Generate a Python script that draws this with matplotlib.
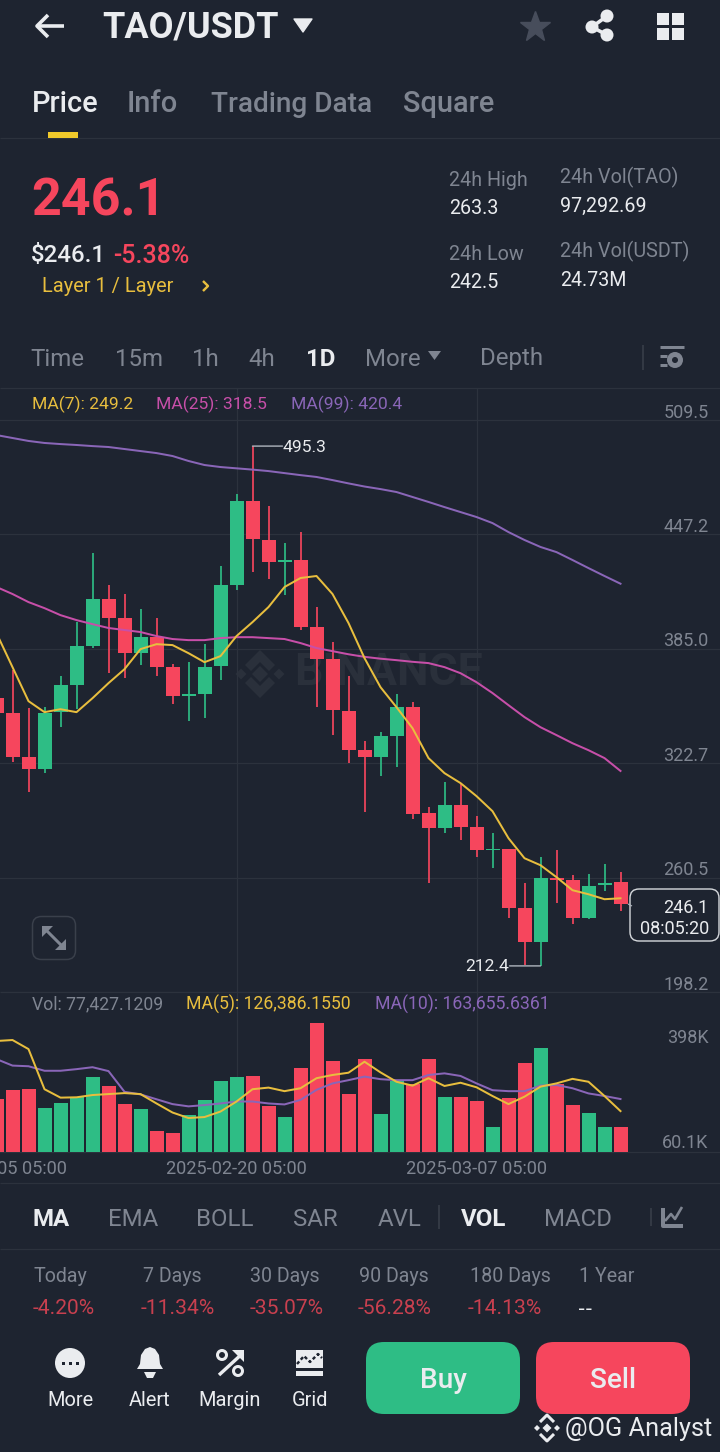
import matplotlib
matplotlib.use("Agg")
import matplotlib.pyplot as plt
from matplotlib.patches import FancyBboxPatch, Polygon, Rectangle, Circle
from matplotlib.transforms import ScaledTranslation

# ---- data -------------------------------------------------------------
opens = [358.1,350.0,326.0,319.5,350.5,365.2,386.4,412.0,401.7,382.6,391.3,375.0,359.5,360.3,375.6,419.7,465.4,444.2,432.2,433.3,
         396.8,379.4,351.1,329.8,326.0,337.4,353.2,295.5,287.3,299.9,287.9,275.4,275.9,243.8,225.3,260.1,259.0,238.3,256.3,258.0]
highs = [365.0,373.4,352.7,353.2,370.1,399.5,437.1,419.7,414.8,406.6,401.7,376.6,377.7,387.5,430.0,469.2,495.3,462.7,442.5,448.5,
         407.7,388.6,370.1,334.7,339.6,360.3,355.9,298.8,312.4,311.9,293.9,284.6,276.0,257.4,271.5,275.4,261.8,262.3,267.7,263.3]
lows = [345.0,323.3,307.0,317.3,342.3,352.1,385.3,371.7,369.0,376.1,370.1,354.9,345.6,347.2,367.9,417.0,426.7,422.9,414.2,395.2,
        353.2,338.0,322.7,296.1,315.7,320.6,292.3,257.4,284.6,280.8,271.5,265.6,238.3,212.8,212.4,246.5,235.1,237.8,253.0,242.5]
closes = [350.0,326.0,319.5,350.0,365.2,386.4,412.0,401.7,382.6,391.3,375.0,359.2,360.3,375.0,419.7,465.4,444.7,432.2,433.3,396.8,
          379.4,351.6,329.8,326.0,337.4,353.2,295.0,287.3,299.9,287.9,275.4,275.9,243.8,225.3,260.1,259.0,238.3,255.8,257.4,246.1]
ma7 = [393.5,375.0,356.5,350.5,352.1,350.5,358.1,366.3,373.9,384.8,387.5,387.0,382.6,377.7,381.0,391.9,399.5,407.7,418.6,423.5,
       424.6,414.8,399.0,379.9,364.1,353.2,341.8,325.5,317.3,311.9,304.8,296.6,281.9,271.0,267.2,260.7,253.6,251.4,248.7,249.2]
ma25 = [418.6,414.8,410.4,407.1,403.3,400.6,398.4,396.3,395.2,394.1,391.9,390.3,389.7,389.7,390.8,391.3,391.3,390.8,390.3,388.1,
        385.4,383.7,382.0,380.6,379.6,378.8,377.9,377.2,375.0,371.7,366.8,360.9,354.3,347.8,342.3,338.0,333.6,329.8,325.5,318.5]
ma99 = [501.3,499.7,498.1,497.0,496.4,495.9,495.3,494.8,493.7,492.6,491.5,489.9,487.2,485.0,483.9,483.2,482.5,481.7,480.6,479.5,
        478.5,476.8,475.0,473.3,471.9,470.3,467.6,464.9,462.1,459.4,456.7,453.4,448.5,444.2,440.4,437.6,433.3,428.9,424.6,420.4]
volume = [163.8,190.6,193.6,136,150,171,233,205,148,132,64,60.1,113,162,219,231,236,141,107,261,
          398,282,178,287,118,220,209,286,170,169,159,78,166,276,321,209,146,119,78,77.4]
vol_ma5 = [343,346,318,194,168,169,176,179,182,179,150,122,105,108,125,156,194,199,188,197,
           228,238,245,279,246,217,205,228,204,214,200,173,148,171,202,212,226,217,173,126.4]
vol_ma10 = [287,267,265,251,251,256,262,250,186,178,163,148,141,145,150,156,156,150,147,161,
            192,212,222,233,225,222,222,238,243,235,212,191,188,188,205,207,197,181,173,163.7]
price_ticks = [509.5,447.2,385.0,322.7,260.5,198.2]
vol_ticks = [398,60.1]
vol_tick_labels = ["398K","60.1K"]
date_ticks = [0,15,30]
date_labels = ["2025-02-05 05:00","2025-02-20 05:00","2025-03-07 05:00"]
tf_labels = ["Time","15m","1h","4h","1D","More","Depth"]

# ---- style ------------------------------------------------------------
W, H = 720, 1452
BG = "#1E2430"; GRID = "#2C323D"; MUTED = "#7F8591"; WHITE = "#EAECEF"
GREEN = "#2EBD85"; RED = "#F6465D"; YEL = "#E8BE3E"; PINK = "#C74FA9"; PURP = "#8A66B8"
plt.rcParams["font.family"] = ["Roboto", "DejaVu Sans"]
fig = plt.figure(figsize=(W/100, H/100), dpi=100, facecolor=BG)

def pos(x0, y0, x1, y1):
    return [x0/W, 1-y1/H, (x1-x0)/W, (y1-y0)/H]
def px(n):
    return n*0.72

back = fig.add_axes([0,0,1,1], zorder=0); back.set_xlim(0,W); back.set_ylim(H,0); back.axis("off")
front = fig.add_axes([0,0,1,1], zorder=5); front.set_xlim(0,W); front.set_ylim(H,0); front.axis("off"); front.patch.set_alpha(0)

# candle index i sits at pixel -3.5 + 16*i; axes start off-canvas
LEFT = -40
xl = ((LEFT+3.5)/16, (W+3.5)/16)
ax = fig.add_axes(pos(LEFT,388,W,992), zorder=2); ax.patch.set_alpha(0)
top_price = 198.2 + (992-388)*(509.5-198.2)/(992-420)
ax.set_xlim(*xl); ax.set_ylim(198.2, top_price)
vax = fig.add_axes(pos(LEFT,992,W,1152), zorder=2); vax.patch.set_alpha(0)
vax.set_xlim(*xl); vax.set_ylim(0, 160*3.09)

n = list(range(len(closes)))
cols = [GREEN if c >= o else RED for o, c in zip(opens, closes)]
ax.vlines(n, lows, highs, colors=cols, linewidth=px(1.7), zorder=3)
ax.bar(n, [abs(c-o) for o, c in zip(opens, closes)], bottom=[min(o, c) for o, c in zip(opens, closes)],
       width=14/16, color=cols, zorder=4, linewidth=0)
for s, c in ((ma99, PURP), (ma25, PINK), (ma7, YEL)):
    ax.plot(n, s, color=c, lw=px(2), zorder=5, solid_joinstyle="round")
vax.bar(n, volume, width=14/16, color=cols, linewidth=0, zorder=3)
vax.plot(n, vol_ma10, color=PURP, lw=px(2), zorder=4)
vax.plot(n, vol_ma5, color=YEL, lw=px(2), zorder=5)

for a in (ax, vax):
    for s in a.spines.values():
        s.set_visible(False)
    a.tick_params(length=0)
ax.set_xticks(date_ticks); ax.set_xticklabels([])
ax.set_yticks(price_ticks)
ax.yaxis.tick_right()
ax.grid(True, color=GRID, lw=px(1.2), zorder=0)
ax.tick_params(axis="y", pad=px(-11.5), labelsize=px(18), labelcolor=MUTED)
for t in ax.get_yticklabels():
    t.set_ha("right"); t.set_va("bottom")
    t.set_transform(t.get_transform() + ScaledTranslation(0, -1.5/100, fig.dpi_scale_trans))
vax.spines["bottom"].set_visible(True); vax.spines["bottom"].set_color(GRID); vax.spines["bottom"].set_linewidth(px(1.2))
vax.set_xticks(date_ticks); vax.set_xticklabels(date_labels)
vax.tick_params(axis="x", pad=px(7.5), labelsize=px(18.2), labelcolor=MUTED)
vax.grid(True, axis="x", color=GRID, lw=px(1.2), zorder=0)
vax.set_yticks(vol_ticks); vax.set_yticklabels(vol_tick_labels)
vax.yaxis.tick_right()
vax.tick_params(axis="y", pad=px(-11.5), labelsize=px(18), labelcolor=MUTED)
for t, d in zip(vax.get_yticklabels(), (6, 1)):
    t.set_ha("right"); t.set_va("top")
    t.set_transform(t.get_transform() + ScaledTranslation(0, -d/100, fig.dpi_scale_trans))

def T(x, y, s, size, color=MUTED, weight="normal", ha="left", parent=front, **kw):
    return parent.text(x, y+3, s, fontsize=px(size), color=color, fontweight=weight, ha=ha, va="center", **kw)
def L(xs, ys, color=GRID, w=1.2, parent=front, **kw):
    parent.plot(xs, ys, color=color, lw=px(w), solid_capstyle=kw.pop("cap", "butt"), **kw)
def RR(x0, y0, x1, y1, r, fc, ec="none", w=0, parent=front):
    parent.add_patch(FancyBboxPatch((x0+r, y0+r), x1-x0-2*r, y1-y0-2*r, boxstyle=f"round,pad={r},rounding_size={r}",
                                    fc=fc, ec=ec, lw=px(w)))

# dividers
for y in (138, 388, 992, 1183, 1249):
    L([0, W], [y, y], parent=back)

# watermark
wm = "#2A303B"
for cx, cy, r in ((260,674,8),(241,674,5.5),(279,674,5.5)):
    back.add_patch(Polygon([(cx-r,cy),(cx,cy-r),(cx+r,cy),(cx,cy+r)], fc=wm, ec="none"))
back.add_patch(Polygon([(260,650),(275,665),(269,671),(260,662),(251,671),(245,665)], fc=wm, ec="none"))
back.add_patch(Polygon([(260,698),(275,683),(269,677),(260,686),(251,677),(245,683)], fc=wm, ec="none"))
T(294, 670, "BINANCE", 44.5, wm, "bold", parent=back)

# header
L([37,64],[26,26],WHITE,3.6); L([48,37,48],[15,26,37],WHITE,3.6)
T(102, 25, "TAO/USDT", 36, WHITE, "bold")
front.add_patch(Polygon([(294,19),(312,19),(303,32)], fc=WHITE, ec=WHITE, lw=1, joinstyle="round"))
front.plot([535],[27], marker="*", ms=23, color="#474D5B", mec="#474D5B")
sh = [(607,16),(592,27),(607,35)]
L([p[0] for p in sh],[p[1] for p in sh],WHITE,3.6)
for cx,cy in sh:
    front.add_patch(Circle((cx,cy),6.5,fc=WHITE,ec="none"))
for x0,y0 in ((657,13),(672,13),(657,28),(672,28)):
    front.add_patch(Rectangle((x0,y0),11.5,11.5,fc=WHITE,ec="none"))

# tabs
T(32,101,"Price",29,WHITE,"medium")
T(127,101,"Info",29,MUTED,"medium")
T(211,101,"Trading Data",28,MUTED,"medium")
T(403,101,"Square",29,MUTED,"medium")
front.add_patch(Rectangle((48,132),30,6,fc="#F0C92B",ec="none"))

# price block
T(31,198,"246.1",52,RED,"bold")
T(31,253,"$246.1",24,WHITE,"medium")
T(113,253,"-5.38%",25,RED,"medium")
T(42,284,"Layer 1 / Layer",20,YEL)
L([203,208,203],[281,286,291],YEL,2.4)
for x,y,s in ((449,177,"24h High"),(449,251,"24h Low"),(560,174,"24h Vol(TAO)"),(560,248,"24h Vol(USDT)")):
    T(x,y,s,19.8,MUTED)
for x,y,s in ((449,206,"263.3"),(449,280,"242.5"),(560,203,"97,292.69"),(560,277,"24.73M")):
    T(x,y,s,19.6,WHITE)

# timeframe row
for x,s in zip((30,115,192,248,306,365,480),tf_labels):
    T(x,356,s,24,WHITE if s=="1D" else MUTED,"bold" if s=="1D" else "normal")
front.add_patch(Polygon([(428,351),(441,351),(434.5,360)],fc=MUTED,ec="none"))
L([643,643],[345,370],"#3A404B",1.5)
L([660,684],[347,347],MUTED,3)
L([660,667],[356,356],MUTED,3); L([660,667],[365,365],MUTED,3)
front.add_patch(Circle((675,360),8,fc=MUTED,ec="none")); front.add_patch(Circle((675,360),3,fc=BG,ec="none"))

# legends
for x,s,c in ((32,"MA(7): 249.2",YEL),(156,"MA(25): 318.5",PINK),(291,"MA(99): 420.4",PURP)):
    T(x,401.5,s,17.5,c)
for x,s,c in ((32,"Vol: 77,427.1209",MUTED),(186,"MA(5): 126,386.1550",YEL),(375,"MA(10): 163,655.6361",PURP)):
    T(x,1001.5,s,17.6,c)

# high / low markers
mark = dict(arrowstyle="-", color="#AEB4BC", lw=px(1.4), shrinkA=0, shrinkB=0)
ax.annotate("", xy=(16,495.3), xytext=(30,0), textcoords="offset pixels", arrowprops=mark, zorder=6)
ax.annotate("", xy=(34,212.4), xytext=(-31,0), textcoords="offset pixels", arrowprops=mark, zorder=6)
ax.annotate("495.3", xy=(16,495.3), xytext=(30,-1), textcoords="offset pixels", color=WHITE, fontsize=px(17.5), va="center", zorder=6)
ax.annotate("212.4", xy=(34,212.4), xytext=(-31,-1), textcoords="offset pixels", color=WHITE, fontsize=px(17.5), va="center", ha="right", zorder=6)

# last price tag
L([628,632],[904,906],"#AEB4BC",1.2)
RR(630,889,719,941,9,BG,"#D5D8DC",1.4)
T(708,905,"246.1",18,WHITE,ha="right")
T(709,926,"08:05:20",18,WHITE,ha="right")

# expand icon
RR(32.5,916.5,75.5,959.5,9,BG,"#3A404B",1.5)
L([46,62],[930,946],MUTED,3)
front.add_patch(Polygon([(42,926),(53,926),(42,937)],fc=MUTED,ec="none"))
front.add_patch(Polygon([(66,950),(55,950),(66,939)],fc=MUTED,ec="none"))

# indicator row
for x,s in ((33,"MA"),(461,"VOL")):
    T(x,1216,s,24,WHITE,"bold")
for x,s in ((108,"EMA"),(196,"BOLL"),(293,"SAR"),(378,"AVL"),(544,"MACD")):
    T(x,1216,s,24,MUTED)
L([439,439],[1205,1229],"#3A404B",1.5); L([651,651],[1208,1226],"#3A404B",1.5)
L([663,663,683],[1208,1226,1226],MUTED,4)
L([665,671,675,682],[1221,1214,1219,1207],MUTED,2.6)

# stats row
for x,s in ((33,"Today"),(143,"7 Days"),(250,"30 Days"),(359,"90 Days"),(470,"180 Days"),(579,"1 Year")):
    T(x,1274,s,19.6,MUTED)
SR = "#C8404F"
for x,s in ((33,"-4.20%"),(141,"-11.34%"),(250,"-35.07%"),(358,"-56.28%"),(468,"-14.13%")):
    T(x,1306,s,21,SR)
front.text(578,1309,"--",fontsize=px(20),color=WHITE,va="center",family="DejaVu Sans")

# bottom nav icons
front.add_patch(Circle((70,1363),15,fc=WHITE,ec="none"))
for dx in (-7,0,7):
    front.add_patch(Rectangle((70+dx-1.5,1361.5),3,3,fc=BG,ec="none"))
front.add_patch(Polygon([(137,1369),(140,1364),(141,1355),(145,1349),(150,1347),(155,1349),(159,1355),(160,1364),(163,1369)],fc=WHITE,ec="none"))
front.add_patch(Polygon([(144,1372),(156,1372),(153,1378),(147,1378)],fc=WHITE,ec="none"))
L([219,243],[1375,1353],WHITE,3.4)
front.add_patch(Polygon([(232,1350),(244,1350),(244,1362)],fc=WHITE,ec="none"))
for cx,cy in ((222,1355),(238,1371)):
    front.add_patch(Circle((cx,cy),4.5,fc=BG,ec=WHITE,lw=px(3)))
front.add_patch(Rectangle((296,1349.5),27,18,fc=WHITE,ec="none"))
L([297,304,310,318,322],[1364,1356,1362,1354,1358],BG,2.4,ls=(0,(1.4,1)))
front.add_patch(Rectangle((296,1371),27,5,fc=WHITE,ec="none"))
for x,s in ((70,"More"),(150,"Alert"),(230,"Margin"),(310,"Grid")):
    T(x,1397,s,20,WHITE,ha="center")

# buttons
RR(366,1342,520,1414,18,GREEN); RR(536,1342,690,1414,18,RED)
T(443,1378,"Buy",28,WHITE,"medium",ha="center")
T(613,1378,"Sell",28,WHITE,"medium",ha="center")

# credit
for cx,cy,r in ((547,1428,4.5),(537,1428,3),(557,1428,3)):
    front.add_patch(Polygon([(cx-r,cy),(cx,cy-r),(cx+r,cy),(cx,cy+r)],fc=WHITE,ec="none"))
L([540,547,554],[1422,1415,1422],WHITE,3); L([540,547,554],[1434,1441,1434],WHITE,3)
T(565,1426,"@OG Analyst",25.2,WHITE)

fig.savefig("out.png", dpi=100, facecolor=BG)
